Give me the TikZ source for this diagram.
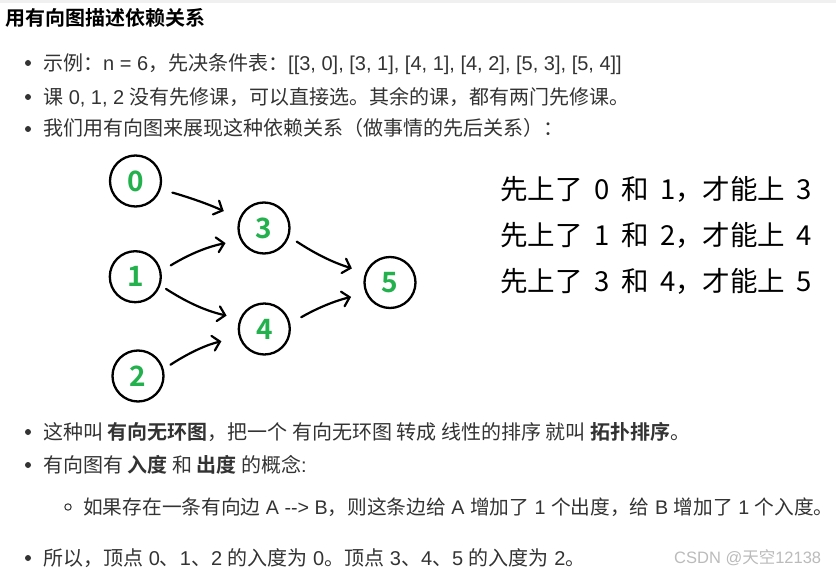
\documentclass[tikz,border=0pt]{standalone}
\usepackage{fontspec}
\setmainfont{Noto Sans CJK SC}[BoldFont={Noto Sans CJK SC Bold}]
\newfontfamily\latinfont{Liberation Sans}
\newfontfamily\headfont{Noto Sans CJK SC Bold}
\usepackage{xcolor}
\usetikzlibrary{arrows.meta,positioning}
\definecolor{bodytext}{HTML}{333333}
\definecolor{paintgreen}{HTML}{22B14C}
\definecolor{markgray}{HTML}{BBBBBB}
\newcommand{\lat}[1]{{\latinfont #1}}

\begin{document}
\begin{tikzpicture}[x=1pt,y=-1pt,
  every node/.style={inner sep=0pt,text=bodytext},
  bodyline/.style={anchor=base west,font=\fontsize{20}{24}\selectfont},
  ruleline/.style={anchor=base west,text=black,
    font={\fontsize{27.5}{30}\selectfont\spaceskip=0.42em\relax}},
  course/.style={circle,draw=black,line width=2.3pt,minimum size=51pt,
    text=paintgreen,font=\headfont\fontsize{28}{28}\selectfont},
  dep/.style={-{Straight Barb[length=7pt,width=15pt,line cap=round]},
    line width=2.2pt,line cap=round},
  dot/.style={fill=bodytext}
]
  \useasboundingbox (0,0) rectangle (836,575);
  \fill[white] (0,0) rectangle (836,575);
  \fill[gray!12] (0,0) rectangle (836,3);

  % heading and first list
  \node[anchor=base west,text=black,font=\headfont\fontsize{20}{24}\selectfont]
    (title) at (5,25.5) {用有向图描述依赖关系};
  \fill[dot] (28,63) circle (3);
  \fill[dot] (28,97) circle (3);
  \fill[dot] (28,129) circle (3);
  \node[bodyline] (l1) at (43,70.5) {示例：\lat{n = 6}，先决条件表：\lat{[[3, 0], [3, 1], [4, 1], [4, 2], [5, 3], [5, 4]]}};
  \node[bodyline] (l2) at (43,104.5) {课\lat{ 0, 1, 2 }没有先修课，可以直接选。其余的课，都有两门先修课。};
  \node[bodyline] (l3) at (43,136) {我们用有向图来展现这种依赖关系（做事情的先后关系）：};

  % the graph
  \node[course] (n0) at (135.5,181) {0};
  \node[course] (n1) at (135.3,276.7) {1};
  \node[course] (n2) at (138,376) {2};
  \node[course] (n3) at (264,228) {3};
  \node[course] (n4) at (264.3,329) {4};
  \node[course] (n5) at (390,282.5) {5};

  \draw[dep,shorten <=12pt,shorten >=17pt] (n0.-18) to[bend left=4] (n3.158);
  \draw[dep,shorten <=11pt,shorten >=15pt] (n1.12) to[bend left=10] (n3.207);
  \draw[dep,shorten <=6.5pt,shorten >=13.5pt] (n1.-19) to[bend right=10] (n4.157);
  \draw[dep,shorten <=8pt,shorten >=18pt] (n2.15) to[bend left=10] (n4.198);
  \draw[dep,shorten <=9pt,shorten >=14pt] (n3.-19) to[bend right=8] (n5.158);
  \draw[dep,shorten <=12.5pt,shorten >=15pt] (n4.12) to[bend left=8] (n5.204);

  % what must come first
  \node[ruleline] (r1) at (500,200) {先上了 0 和 1，才能上 3};
  \node[ruleline] (r2) at (500,245.5) {先上了 1 和 2，才能上 4};
  \node[ruleline] (r3) at (500,291.5) {先上了 3 和 4，才能上 5};

  % second list
  \fill[dot] (28,432) circle (3);
  \fill[dot] (28,465) circle (3);
  \draw[bodytext,line width=1pt] (68,507) circle (3.2);
  \fill[dot] (28,558) circle (3);
  \node[bodyline] (l4) at (43,439.5) {这种叫 \textbf{有向无环图}，把一个 有向无环图 转成 线性的排序 就叫 \textbf{拓扑排序}。};
  \node[bodyline] (l5) at (43,472.5) {有向图有 \textbf{入度} 和 \textbf{出度} 的概念\lat{:}};
  \node[bodyline,font=\fontsize{19.7}{24}\selectfont] (l6) at (83,514.5) {如果存在一条有向边\lat{ A -\kern0pt-\kern0pt> B}，则这条边给\lat{ A }增加了\lat{ 1 }个出度，给\lat{ B }增加了\lat{ 1 }个入度。};
  \node[bodyline] (l7) at (43,565.5) {所以，顶点\lat{ 0}、\lat{1}、\lat{2 }的入度为\lat{ 0}。顶点\lat{ 3}、\lat{4}、\lat{5 }的入度为\lat{ 2}。};
  \node[anchor=base west,text=markgray,font=\fontsize{16.5}{20}\selectfont]
    (mark) at (674,563.5) {\lat{CSDN @}天空\lat{12138}};
\end{tikzpicture}
\end{document}
